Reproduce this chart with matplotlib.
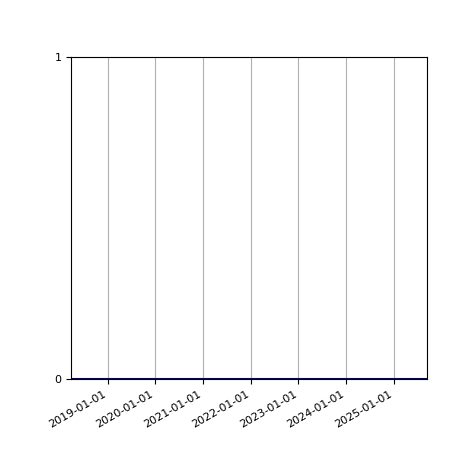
import pandas as pd
import matplotlib
matplotlib.use("Agg")
import matplotlib.pyplot as plt
import matplotlib.dates as mdates

# series: flat at zero over the whole range
dates = ["2018-03-28", "2019-06-01", "2020-06-01", "2021-06-01",
         "2022-06-01", "2023-06-01", "2024-06-01", "2025-09-08"]
values = [0, 0, 0, 0, 0, 0, 0, 0]

df = pd.DataFrame({"date": pd.to_datetime(dates), "value": values})

fig, ax = plt.subplots(figsize=(4.74, 4.74), dpi=100)
ax.plot(df["date"], df["value"], color="darkblue", linewidth=1.5)

ax.set_xlim(df["date"].iloc[0], df["date"].iloc[-1])
ax.set_ylim(0, 1)
ax.set_yticks([0, 1])
ax.xaxis.set_major_locator(mdates.YearLocator())
ax.xaxis.set_major_formatter(mdates.DateFormatter("%Y-%m-%d"))
ax.grid(axis="x")
ax.tick_params(labelsize=8)

fig.autofmt_xdate()
fig.subplots_adjust(left=0.15, right=0.9, top=0.88, bottom=0.2)
fig.savefig("out.png", dpi=100)
